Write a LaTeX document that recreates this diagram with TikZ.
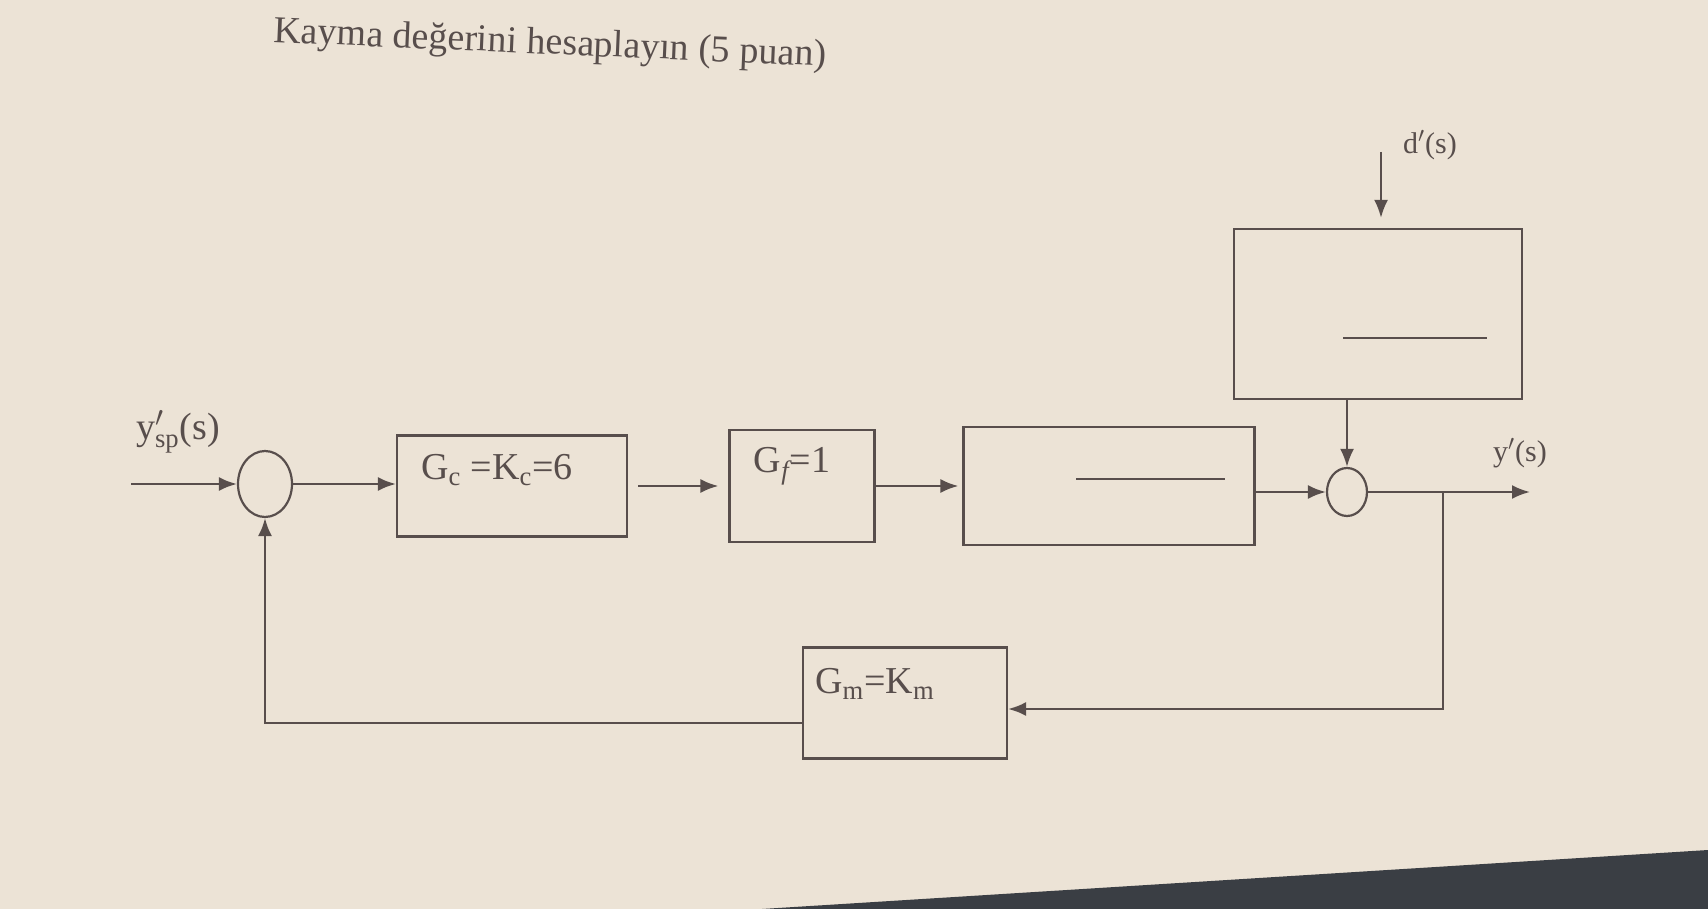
\documentclass[tikz,border=0pt]{standalone}
\usepackage{fontspec}
\setmainfont{Liberation Serif}
\usetikzlibrary{shapes.geometric,arrows.meta,positioning}
\definecolor{paper}{RGB}{236,227,214}
\definecolor{ink}{RGB}{88,78,76}
\definecolor{screen}{RGB}{58,62,68}
\tikzset{
  block/.style={draw=ink,line width=1.1pt,rectangle,inner sep=0pt},
  summer/.style={draw=ink,line width=1.1pt,ellipse,inner sep=0pt},
  sig/.style={-{Latex[length=9pt,width=7pt]},draw=ink,line width=1.2pt},
  lbl/.style={text=ink,font=\fontsize{19}{22}\selectfont,inner sep=0pt},
  small lbl/.style={text=ink,font=\fontsize{15}{18}\selectfont,inner sep=0pt}
}
\begin{document}
\begin{tikzpicture}[x=0.5pt,y=-0.5pt]
		\fill[paper] (0,0) rectangle (1708,909);
		\useasboundingbox (0,0) rectangle (1708,909);
		\fill[screen] (762,909) -- (1708,850) -- (1708,909) -- cycle;
		\node[lbl,rotate=-2.5] (title) at (550,45) {Kayma değerini hesaplayın (5 puan)};
		% summing points and blocks
		\node[summer,minimum width=27pt,minimum height=33pt] (sumA) at (265,484) {};
		\node[block,minimum width=115pt,minimum height=50.5pt] (gc) at (512,486) {};
		\node[block,minimum width=72.5pt,minimum height=56pt] (gf) at (802,486) {};
		\node[block,minimum width=145.5pt,minimum height=59pt] (proc) at (1109,486) {};
		\node[block,minimum width=144pt,minimum height=85pt] (dist) at (1378,314) {};
		\node[summer,minimum width=20pt,minimum height=24pt] (sumB) at (1347,492) {};
		\node[block,minimum width=102pt,minimum height=55.5pt] (gm) at (905,703) {};
		\draw[ink,line width=1.1pt] (1076,479) -- (1225,479);
		\draw[ink,line width=1.1pt] (1343,338) -- (1487,338);
		% texts
		\node[lbl] (gcText) at (497,470) {G\textsubscript{c} =K\textsubscript{c}=6};
		\node[lbl] (gfText) at (792,466) {G\textsubscript{\itshape f}=1};
		\node[lbl] (gmText) at (875,684) {G\textsubscript{m}=K\textsubscript{m}};
		\node[lbl] (ysp) at (178,432) {y$^{\prime}_{\mathrm{sp}}$(s)};
		\node[small lbl] (dText) at (1430,145) {d$'$(s)};
		\node[small lbl] (yText) at (1520,453) {y$'$(s)};
		% signals
		\coordinate (in) at (131,484);
		\coordinate (out) at (1530,492);
		\coordinate (tap) at (1443,492);
		\coordinate (dIn) at (1381,152);
		\draw[sig] (in) -- (sumA.west);
		\draw[sig] (sumA.east) -- (sumA.east -| gc.west);
		\draw[sig,shorten <=5pt,shorten >=5pt] (gc.east) -- (gf.west);
		\draw[sig,shorten >=2pt] (gf.east) -- (proc.west);
		\draw[sig] (proc.east |- sumB.west) -- (sumB.west);
		\draw[sig] (sumB.east) -- (out);
		\draw[sig,shorten >=5pt] (dIn) -- (dIn |- dist.north);
		\draw[sig] (dist.south -| sumB) -- (sumB.north);
		\draw[sig] (tap) |- ([yshift=-3pt]gm.east);
		\draw[sig] ([yshift=-10pt]gm.west) -| (sumA.south);
	\end{tikzpicture}
\end{document}
